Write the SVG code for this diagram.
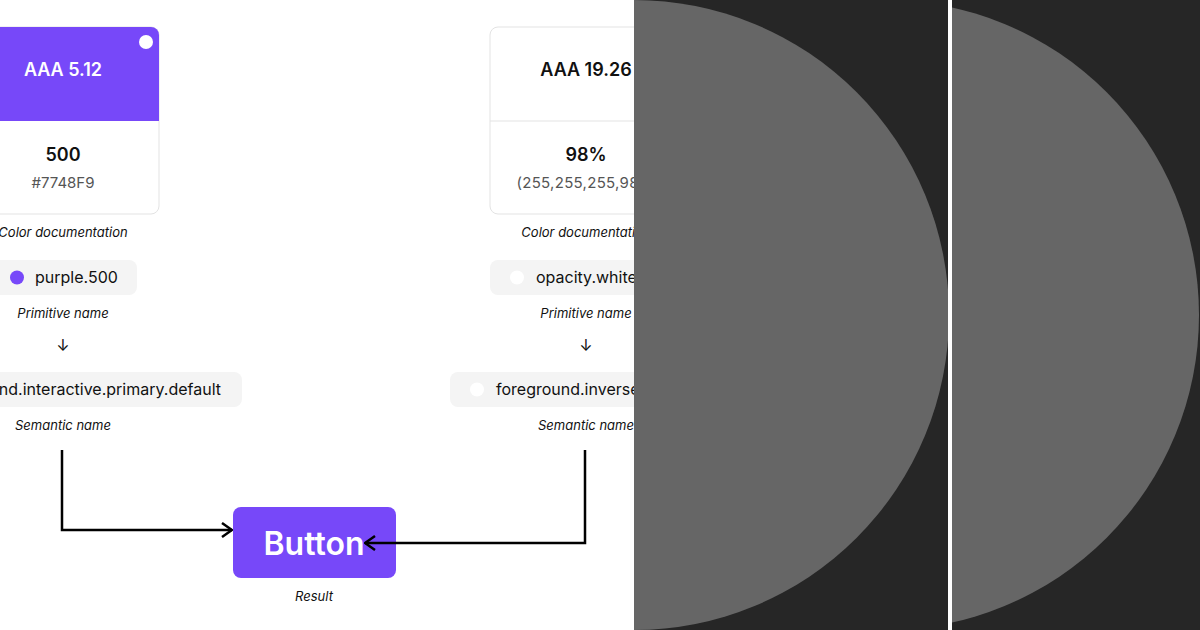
<svg xmlns="http://www.w3.org/2000/svg" width="1200" height="630" viewBox="0 0 1200 630">
<style>
text{font-family:Inter,"Noto Sans","Liberation Sans",sans-serif}
.ttl{font-size:18px;font-weight:600;text-anchor:middle}
.sub{font-size:15px;fill:#555;text-anchor:middle}
.cap{font-size:13px;font-style:italic;fill:#111;text-anchor:middle}
.pill{fill:#f4f4f4}
.ptx{font-size:16px;font-weight:400;fill:#111}
.conn{fill:none;stroke:#000;stroke-width:2.5}
.card{fill:#fff;stroke:#e3e3e3;stroke-width:1}
</style>
<defs>
<marker id="chev" viewBox="0 0 12 16" refX="11" refY="8" markerWidth="12" markerHeight="16" markerUnits="userSpaceOnUse" orient="auto">
<path d="M1 1 L11 8 L1 15" fill="none" stroke="#000" stroke-width="2.5"/>
</marker>
<clipPath id="c1"><rect x="634" y="0" width="314" height="630"/></clipPath>
<clipPath id="c2"><rect x="952" y="0" width="248" height="630"/></clipPath>
</defs>
<rect width="1200" height="630" fill="#fff"/>

<g id="card-purple">
<rect class="card" x="-33" y="27" width="192" height="187" rx="8"/>
<path d="M-33 27 H151 A8 8 0 0 1 159 35 V121 H-33 Z" fill="#7748F9"/>
<circle cx="146" cy="42" r="7" fill="#fff"/>
<text class="ttl" x="63" y="76" fill="#fff">AAA 5.12</text>
<text class="ttl" x="63" y="161" fill="#111">500</text>
<text class="sub" x="63" y="188">#7748F9</text>
<text class="cap" x="63" y="237">Color documentation</text>
</g>

<g id="card-white">
<rect class="card" x="490" y="27" width="192" height="187" rx="8"/>
<line x1="490" y1="121" x2="682" y2="121" stroke="#e3e3e3"/>
<text class="ttl" x="586" y="76" fill="#111">AAA 19.26</text>
<text class="ttl" x="586" y="161" fill="#111">98%</text>
<text class="sub" x="588" y="188" letter-spacing="0.3">(255,255,255,98%)</text>
<text class="cap" x="586" y="237">Color documentation</text>
</g>

<g id="prim-purple">
<rect class="pill" x="-11" y="260" width="148" height="35" rx="8"/>
<circle cx="17" cy="277.5" r="7" fill="#7748F9"/>
<text class="ptx" x="35" y="283">purple.500</text>
<text class="cap" x="63" y="318">Primitive name</text>
</g>

<g id="prim-white">
<rect class="pill" x="490" y="260" width="192" height="35" rx="8"/>
<circle cx="517" cy="277.5" r="7" fill="#fff"/>
<text class="ptx" x="536" y="283">opacity.white.98</text>
<text class="cap" x="586" y="318">Primitive name</text>
</g>

<g id="arrows-down">
<text x="63" y="351" font-size="16" text-anchor="middle" fill="#111">↓</text>
<text x="586" y="351" font-size="16" text-anchor="middle" fill="#111">↓</text>
</g>

<g id="sem-purple">
<rect class="pill" x="-116" y="372" width="358" height="35" rx="8"/>
<text class="ptx" x="221" y="395" text-anchor="end">background.interactive.primary.default</text>
<text class="cap" x="63" y="430">Semantic name</text>
</g>

<g id="sem-white">
<rect class="pill" x="450" y="372" width="272" height="35" rx="8"/>
<circle cx="477" cy="389.5" r="7" fill="#fff"/>
<text class="ptx" x="496" y="395">foreground.inverse</text>
<text class="cap" x="586" y="430">Semantic name</text>
</g>

<g id="button">
<rect x="233" y="507" width="163" height="71" rx="8" fill="#7748F9"/>
<text x="314" y="555" font-size="32" font-weight="600" fill="#fff" text-anchor="middle">Button</text>
<text class="cap" x="314" y="601">Result</text>
</g>

<g id="connectors">
<path class="conn" d="M62 450 V530 H232" marker-end="url(#chev)"/>
<path class="conn" d="M585 450 V543 H365" marker-end="url(#chev)"/>
</g>

<g id="panel">
<rect x="634" y="0" width="314" height="630" fill="#262626"/>
<rect x="952" y="0" width="248" height="630" fill="#262626"/>
<circle cx="634" cy="315" r="315" fill="#666" clip-path="url(#c1)"/>
<circle cx="884" cy="315" r="315" fill="#666" clip-path="url(#c2)"/>
</g>
</svg>
